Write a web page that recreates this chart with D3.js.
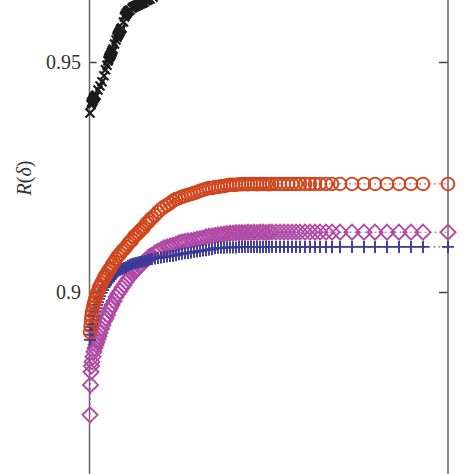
<!DOCTYPE html>
<html>
<head>
  <meta charset="utf-8">
  <title>R(δ)</title>
  <script src="https://d3js.org/d3.v7.min.js"></script>
  <style>
    body { margin: 0; background: #fff; }
    text { font-family: "Liberation Serif", "DejaVu Serif", serif; }
  </style>
</head>
<body>
  <svg id="chart"></svg>

  <script>
    // shared steps for the three lower curves (x axis itself is cropped out)
    var steps = [0, 0.5, 1, 1.5, 2, 3, 4, 5, 6, 7, 8, 9, 10, 11.5, 13, 14.5, 16, 17.5, 19, 20.5,
      22, 24, 26, 28, 30, 32, 34, 36, 38, 40, 42, 44, 46, 48, 50, 52, 54, 56, 58, 60, 62,
      65, 68, 71, 74, 77, 80, 83, 86, 89, 92, 95, 98, 101, 104, 107, 110, 113, 116, 119, 122,
      125, 128, 131, 134, 137, 140, 143, 146, 149,
      152, 155, 158, 161, 164, 167, 170, 173, 176, 179, 182,
      186, 190, 194, 198, 202, 206, 210, 215, 220, 225, 230, 236, 242, 250,
      262, 274, 285, 297, 309, 321, 333, 358];

    var redR = [0.8913, 0.8926, 0.8939, 0.8948, 0.8957, 0.8967, 0.8976, 0.8983, 0.8989, 0.8996,
      0.9002, 0.9009, 0.9013, 0.9020, 0.9026, 0.9033, 0.9037, 0.9043, 0.9048, 0.9052,
      0.9059, 0.9065, 0.9072, 0.9078, 0.9083, 0.9089, 0.9093, 0.9098, 0.9104, 0.9109, 0.9113,
      0.9120, 0.9124, 0.9128, 0.9133, 0.9137, 0.9141, 0.9148, 0.9152, 0.9157, 0.9161,
      0.9167, 0.9174, 0.9180, 0.9185, 0.9189, 0.9193, 0.9198, 0.9202, 0.9204, 0.9207,
      0.9209, 0.9211, 0.9213, 0.9215, 0.9217, 0.9220, 0.9222, 0.9224, 0.9226, 0.9226,
      0.9228, 0.9228, 0.9230, 0.9230, 0.9232, 0.9233, 0.9233, 0.9233, 0.9234,
      0.9234, 0.9235, 0.9234, 0.9235, 0.9235, 0.9234, 0.9235, 0.9235, 0.9235, 0.9234, 0.9235,
      0.9235, 0.9235, 0.9235, 0.9235, 0.9235, 0.9235, 0.9235, 0.9235, 0.9235, 0.9235, 0.9235,
      0.9235, 0.9235, 0.9235, 0.9235, 0.9235, 0.9235, 0.9235, 0.9235, 0.9235, 0.9235, 0.9235];

    var purpleR = [0.8733, 0.8798, 0.8826, 0.8839, 0.8848, 0.8859, 0.8870, 0.8878, 0.8885, 0.8891,
      0.8898, 0.8904, 0.8911, 0.8920, 0.8928, 0.8937, 0.8943, 0.8950, 0.8959, 0.8965,
      0.8972, 0.8980, 0.8989, 0.8996, 0.9002, 0.9009, 0.9015, 0.9022, 0.9028, 0.9033, 0.9039,
      0.9043, 0.9048, 0.9052, 0.9057, 0.9061, 0.9065, 0.9070, 0.9074, 0.9078, 0.9080,
      0.9085, 0.9089, 0.9092, 0.9096, 0.9098, 0.9100, 0.9102, 0.9104, 0.9107, 0.9109,
      0.9110, 0.9111, 0.9112, 0.9113, 0.9115, 0.9116, 0.9117, 0.9120, 0.9121, 0.9122,
      0.9123, 0.9124, 0.9125, 0.9126, 0.9127, 0.9128, 0.9128, 0.9129, 0.9129,
      0.9129, 0.9129, 0.9130, 0.9129, 0.9130, 0.9129, 0.9130, 0.9130, 0.9129, 0.9130, 0.9130,
      0.9130, 0.9130, 0.9130, 0.9130, 0.9130, 0.9130, 0.9130, 0.9130, 0.9130, 0.9130, 0.9130,
      0.9130, 0.9130, 0.9130, 0.9130, 0.9130, 0.9130, 0.9130, 0.9130, 0.9130, 0.9130, 0.9130];

    var blueR = [0.8896, 0.8907, 0.8917, 0.8924, 0.8930, 0.8939, 0.8948, 0.8957, 0.8965, 0.8972,
      0.8978, 0.8985, 0.8991, 0.8998, 0.9004, 0.9011, 0.9015, 0.9020, 0.9024, 0.9028,
      0.9033, 0.9037, 0.9041, 0.9045, 0.9048, 0.9050, 0.9052, 0.9054, 0.9057, 0.9059, 0.9061,
      0.9062, 0.9063, 0.9064, 0.9065, 0.9066, 0.9067, 0.9068, 0.9070, 0.9071, 0.9072,
      0.9073, 0.9074, 0.9075, 0.9076, 0.9077, 0.9078, 0.9079, 0.9080, 0.9082, 0.9083,
      0.9084, 0.9085, 0.9086, 0.9087, 0.9088, 0.9089, 0.9090, 0.9091, 0.9092, 0.9093,
      0.9095, 0.9096, 0.9096, 0.9096, 0.9097, 0.9097, 0.9097, 0.9097, 0.9098,
      0.9098, 0.9098, 0.9098, 0.9098, 0.9098, 0.9098, 0.9098, 0.9098, 0.9098, 0.9098, 0.9098,
      0.9098, 0.9098, 0.9098, 0.9098, 0.9098, 0.9098, 0.9098, 0.9098, 0.9098, 0.9098, 0.9098,
      0.9098, 0.9098, 0.9098, 0.9098, 0.9098, 0.9098, 0.9098, 0.9098, 0.9098, 0.9098, 0.9098];

    // black crosses have their own steps
    var blackSteps = [0, 1, 1.5, 2, 2.5, 3, 3.5, 4, 4.5, 5, 5.5, 6, 8, 10, 12, 14, 15.5, 17,
      18, 18.5, 19, 19.5, 20, 20.5, 21, 21.5, 22, 22.5, 23, 24.5, 26,
      27, 27.5, 28, 28.5, 29, 29.5, 30, 30.5, 31, 31.5, 32, 33.5,
      34.5, 35, 35.5, 36, 36.5, 37, 37.5, 38, 38.5, 39, 40,
      42, 43, 44, 45, 46, 47, 48, 49, 50, 51, 52, 53, 54, 56, 58, 60, 63, 66];

    var blackR = [0.9389, 0.9407, 0.9411, 0.9413, 0.9415, 0.9417, 0.9420, 0.9422, 0.9424, 0.9425,
      0.9426, 0.9428, 0.9439, 0.9448, 0.9457, 0.9470, 0.9483, 0.9493,
      0.9502, 0.9505, 0.9509, 0.9511, 0.9513, 0.9515, 0.9517, 0.9520, 0.9522, 0.9525, 0.9528,
      0.9539, 0.9548,
      0.9554, 0.9557, 0.9559, 0.9561, 0.9563, 0.9565, 0.9567, 0.9570, 0.9572, 0.9573, 0.9574, 0.9587,
      0.9598, 0.9600, 0.9602, 0.9604, 0.9605, 0.9607, 0.9609, 0.9610, 0.9611, 0.9612, 0.9613,
      0.9617, 0.9619, 0.9620, 0.9621, 0.9622, 0.9623, 0.9624, 0.9625, 0.9626, 0.9627, 0.9628,
      0.9629, 0.9630, 0.9633, 0.9635, 0.9637, 0.9641, 0.9646];

    var yTicks = [0.9, 0.95];

    var width = 474, height = 474;

    var svg = d3.select("#chart")
      .attr("width", width)
      .attr("height", height);

    var x = d3.scaleLinear().domain([0, 358]).range([90, 448]);
    var y = d3.scaleLinear().domain([0.9, 0.95]).range([292, 62]);

    function pts(xs, ys) {
      return xs.map(function(d, i) { return { x: d, r: ys[i] }; });
    }

    var line = d3.line()
      .x(function(d) { return x(d.x); })
      .y(function(d) { return y(d.r); });

    // axes: left and right frame lines, ticks pointing inward
    var leftAxis = d3.axisRight(y).tickValues(yTicks).tickSize(7).tickFormat("");
    var rightAxis = d3.axisLeft(y).tickValues(yTicks).tickSize(9).tickFormat("");

    svg.append("g").attr("transform", "translate(89.5,0)").call(leftAxis)
      .call(function(g) { g.select(".domain").remove(); })
      .selectAll("line").attr("stroke", "#444").attr("stroke-width", 1.5);
    svg.append("g").attr("transform", "translate(448,0)").call(rightAxis)
      .call(function(g) { g.select(".domain").remove(); })
      .selectAll("line").attr("stroke", "#444").attr("stroke-width", 1.5);

    svg.append("line").attr("x1", 89.5).attr("x2", 89.5).attr("y1", 0).attr("y2", height)
      .attr("stroke", "#666").attr("stroke-width", 1.5);
    svg.append("line").attr("x1", 448).attr("x2", 448).attr("y1", 0).attr("y2", height)
      .attr("stroke", "#666").attr("stroke-width", 1.5);

    // tick labels
    svg.selectAll(".ylab")
      .data(yTicks)
      .enter()
      .append("text")
      .attr("class", "ylab")
      .attr("x", 81)
      .attr("y", function(d) { return y(d); })
      .attr("dy", "0.35em")
      .attr("text-anchor", "end")
      .attr("font-size", 20)
      .attr("fill", "#333")
      .text(function(d) { return d === 0.9 ? "0.9" : "0.95"; });

    // y title R(δ)
    var title = svg.append("text")
      .attr("transform", "translate(31,178) rotate(-90)")
      .attr("text-anchor", "middle")
      .attr("font-size", 20)
      .attr("fill", "#333");
    title.append("tspan").attr("font-style", "italic").text("R");
    title.append("tspan").text("(");
    title.append("tspan").attr("font-style", "italic").text("δ");
    title.append("tspan").text(")");

    var series = [
      { name: "purple", data: pts(steps, purpleR), color: "#b04aa6", shape: "diamond" },
      { name: "blue", data: pts(steps, blueR), color: "#3b3a98", shape: "plus" },
      { name: "red", data: pts(steps, redR), color: "#d2441c", shape: "circle" },
      { name: "black", data: pts(blackSteps, blackR), color: "#1c1c1c", shape: "cross" }
    ];

    function markerPath(shape) {
      if (shape === "diamond") return "M0,-7.5L7.5,0L0,7.5L-7.5,0Z";
      if (shape === "plus") return "M-6,0H6M0,-6V6";
      if (shape === "cross") return "M-4.5,-4.5L4.5,4.5M-4.5,4.5L4.5,-4.5";
      return "M6.3,0A6.3,6.3 0 1,1 -6.3,0A6.3,6.3 0 1,1 6.3,0Z";
    }

    series.forEach(function(s) {
      var g = svg.append("g").attr("class", s.name);

      g.append("path")
        .datum(s.data)
        .attr("d", line)
        .attr("fill", "none")
        .attr("stroke", s.color)
        .attr("stroke-width", 1)
        .attr("stroke-dasharray", "2,3");

      g.selectAll("path.mk")
        .data(s.data)
        .enter()
        .append("path")
        .attr("class", "mk")
        .attr("d", markerPath(s.shape))
        .attr("transform", function(d) { return "translate(" + x(d.x) + "," + y(d.r) + ")"; })
        .attr("fill", "none")
        .attr("stroke", s.color)
        .attr("stroke-width", s.shape === "cross" ? 2.2 : 1.9);
    });
  </script>
</body>
</html>
